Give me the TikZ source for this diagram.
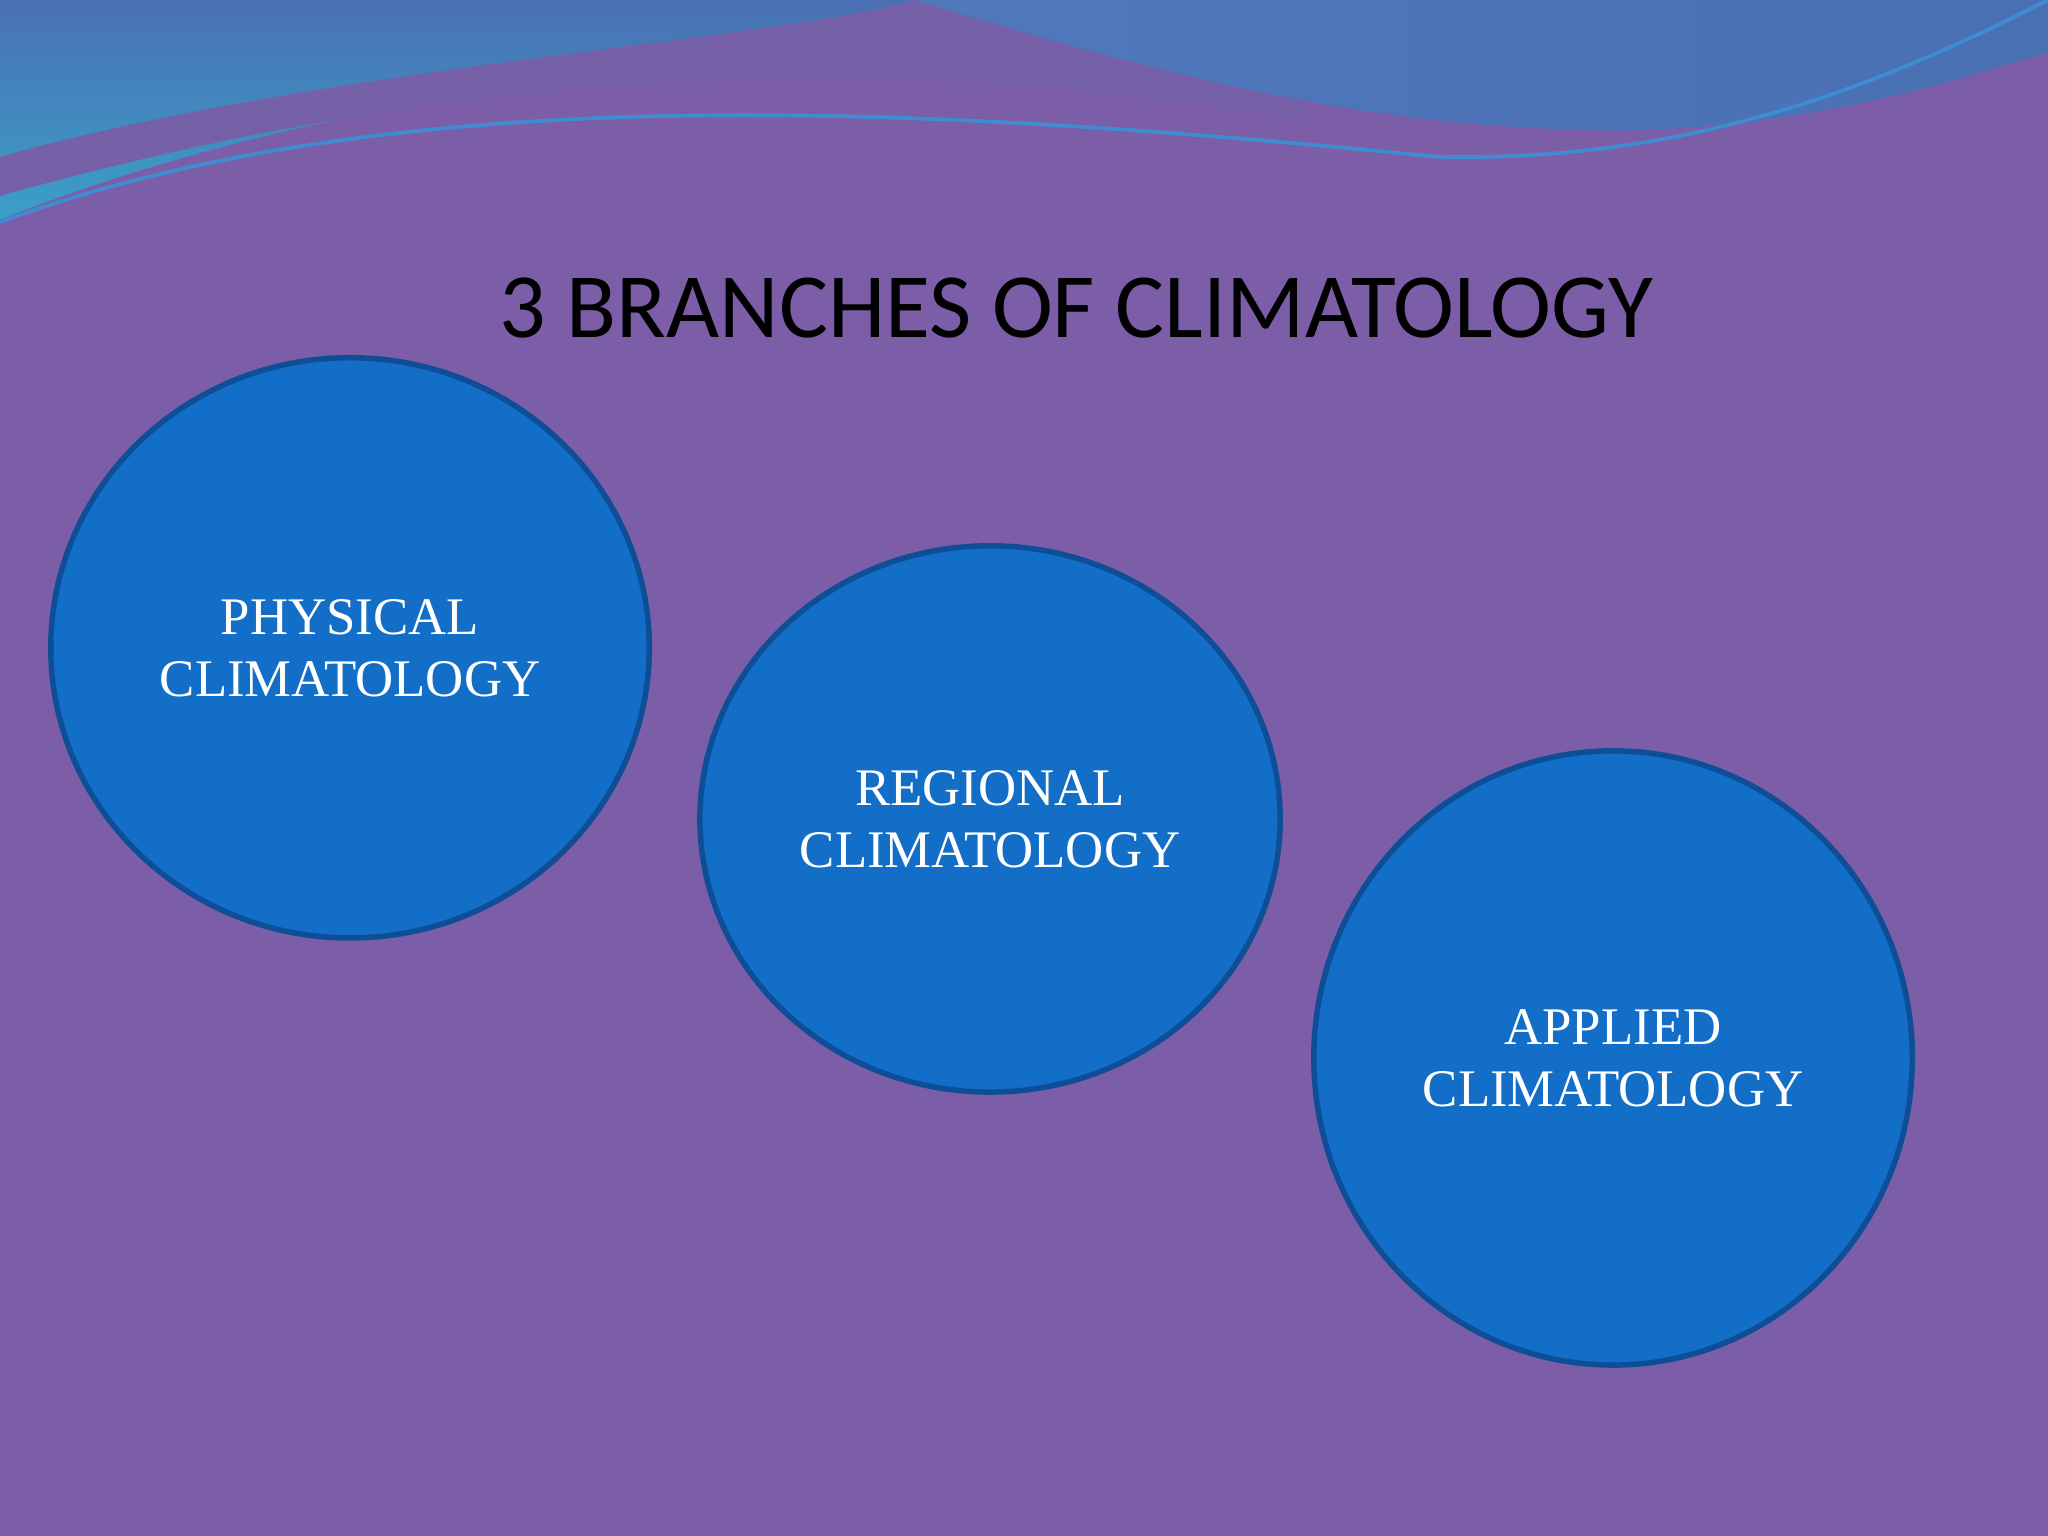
\documentclass[tikz,border=0pt]{standalone}
\usepackage{fontspec}
\usetikzlibrary{shapes.geometric}
\setmainfont{Liberation Serif}
\newfontfamily\titlefont{Carlito}
\begin{document}
\begin{tikzpicture}[x=0.01cm,y=-0.01cm]
\definecolor{bg}{HTML}{7B5EA7}
\definecolor{circfill}{HTML}{136EC8}
\definecolor{circedge}{HTML}{0E4E96}
\definecolor{wave0}{HTML}{3AA0C8}
\definecolor{wave1}{HTML}{4A70B4}
\definecolor{wave2}{HTML}{5078BC}
\tikzset{branch/.style={ellipse,draw=circedge,line width=1.2pt,fill=circfill,text=white,align=center,font=\fontsize{11.5}{13.5}\selectfont,inner sep=0pt}}
\fill[bg] (0,0) rectangle (1568,1176);
\useasboundingbox (0,0) rectangle (1568,1176);
% waves
\shade[bottom color=wave0,top color=wave1] (0,0) -- (0,168) .. controls (200,90) and (400,60) .. (600,50) .. controls (750,40) and (800,20) .. (700,0) -- cycle;
\fill[bg!90!wave1] (0,150) .. controls (250,80) and (450,60) .. (650,60) .. controls (800,60) and (900,80) .. (1000,90) -- (1000,60) .. controls (850,40) and (780,20) .. (700,0) .. controls (600,30) and (250,50) .. (0,120) -- cycle;
\shade[left color=wave2,right color=wave1] (700,0) .. controls (900,60) and (1050,100) .. (1250,100) .. controls (1400,95) and (1500,60) .. (1568,40) -- (1568,0) -- cycle;
\draw[cyan!60!blue!80,line width=0.8pt] (0,170) .. controls (300,60) and (700,80) .. (1100,120) .. controls (1300,125) and (1450,60) .. (1568,0);
\node[font=\titlefont\fontsize{20}{24}\selectfont,text=black] (title) at (824,236) {3 BRANCHES OF CLIMATOLOGY};
\node[branch,minimum width=4.58cm,minimum height=4.44cm] (phys) at (268,496) {PHYSICAL\\CLIMATOLOGY};
\node[branch,minimum width=4.44cm,minimum height=4.18cm] (reg) at (758,627) {REGIONAL\\CLIMATOLOGY};
\node[branch,minimum width=4.58cm,minimum height=4.70cm] (app) at (1235,810) {APPLIED\\CLIMATOLOGY};
\end{tikzpicture}
\end{document}
